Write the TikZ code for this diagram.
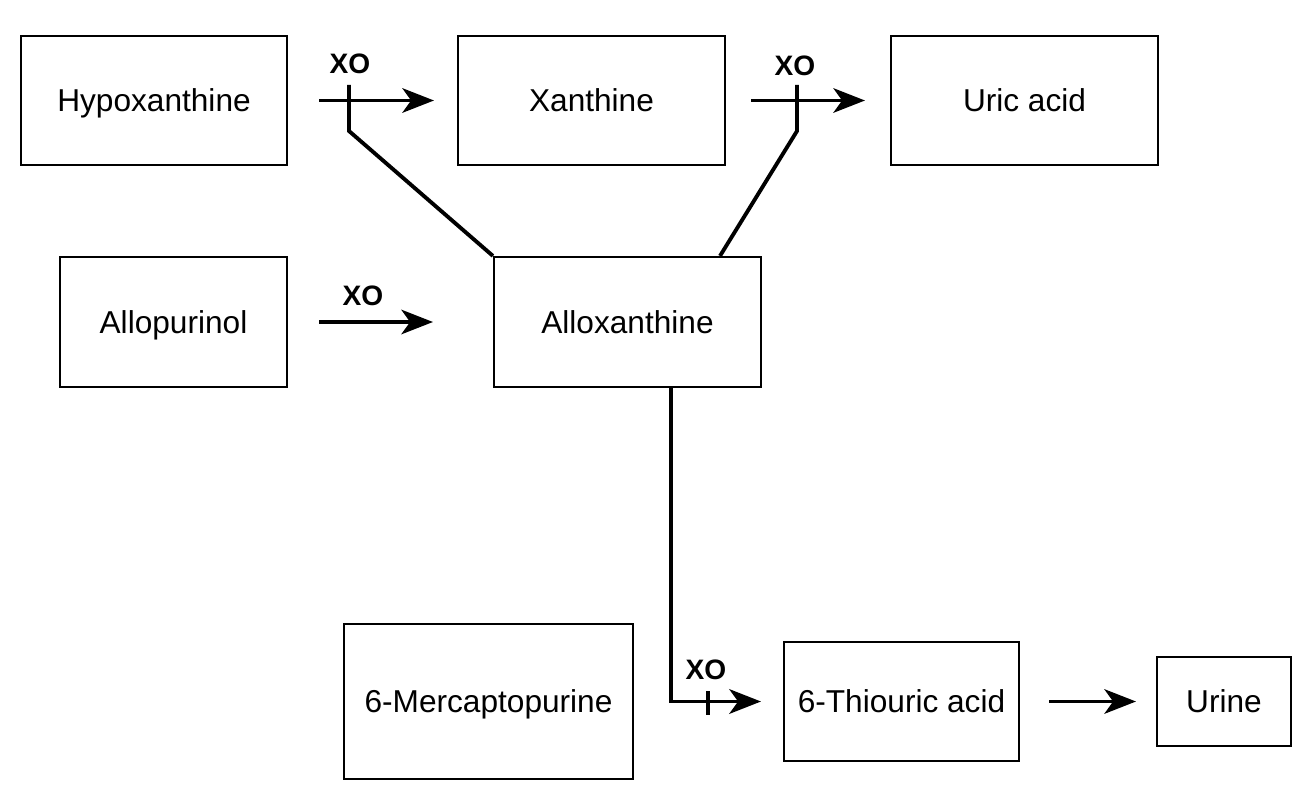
\documentclass[tikz,border=0pt]{standalone}
\usepackage{fontspec}
\setmainfont{Liberation Sans}
\usetikzlibrary{arrows.meta}

\begin{document}
\begin{tikzpicture}[every node/.style={font=\fontsize{18}{21}\selectfont},
	box/.style 2 args={draw, line width=1.2pt, inner sep=0pt, text height=13pt, text depth=0pt, minimum width=#1, minimum height=#2},
	arr/.style={line width=1.8pt, -{Stealth[length=18pt, width=14pt, inset=5pt]}},
	block/.style={line width=2.2pt},
	enz/.style={font=\fontsize{16}{18}\selectfont\bfseries}]
	\useasboundingbox (0,0) rectangle (26.02,-15.94);

	\node[box={5.32cm}{2.58cm}] (hypo) at (3.08,-2.01) {Hypoxanthine};
	\node[box={5.34cm}{2.58cm}] (xan) at (11.83,-2.01) {Xanthine};
	\node[box={5.34cm}{2.58cm}] (uric) at (20.49,-2.01) {Uric acid};
	\node[box={4.54cm}{2.6cm}] (allo) at (3.47,-6.44) {Allopurinol};
	\node[box={5.34cm}{2.6cm}] (alox) at (12.55,-6.44) {Alloxanthine};
	\node[box={5.78cm}{3.1cm}] (merc) at (9.77,-14.03) {6-Mercaptopurine};
	\node[box={4.7cm}{2.38cm}] (thio) at (18.03,-14.03) {6-Thiouric acid};
	\node[box={2.68cm}{1.78cm}] (urine) at (24.48,-14.03) {Urine};

	\draw[arr, shorten <=0.62cm, shorten >=0.46cm] (hypo) -- (xan);
	\draw[arr, shorten <=0.5cm, shorten >=0.5cm] (xan) -- (uric);
	\draw[arr, shorten <=0.62cm, shorten >=1.2cm] (allo) -- (alox);
	\draw[arr, shorten <=0.58cm, shorten >=0.4cm] (thio) -- (urine);

	\coordinate (k1) at (6.98,-2.01);
	\coordinate (k2) at (15.94,-2.01);
	\coordinate (k3) at (14.16,-14.06);
	\draw[block] ([yshift=0.31cm]k1) -- ([yshift=-0.61cm]k1) -- (alox.north west);
	\draw[block] ([yshift=0.31cm]k2) -- ([yshift=-0.61cm]k2) -- ([xshift=1.85cm]alox.north);
	\draw[block, -{Stealth[length=18pt, width=14pt, inset=5pt]}] ([xshift=0.87cm]alox.south) |- ([xshift=-0.44cm]thio.west);
	\draw[block] ([yshift=0.24cm]k3) -- ([yshift=-0.24cm]k3);

	\foreach \p/\n in {{(7.0,-1.28)}/xo1, {(15.9,-1.32)}/xo2, {(7.26,-5.92)}/xo3, {(14.12,-13.4)}/xo4}
		\node[enz] (\n) at \p {XO};
\end{tikzpicture}
\end{document}
